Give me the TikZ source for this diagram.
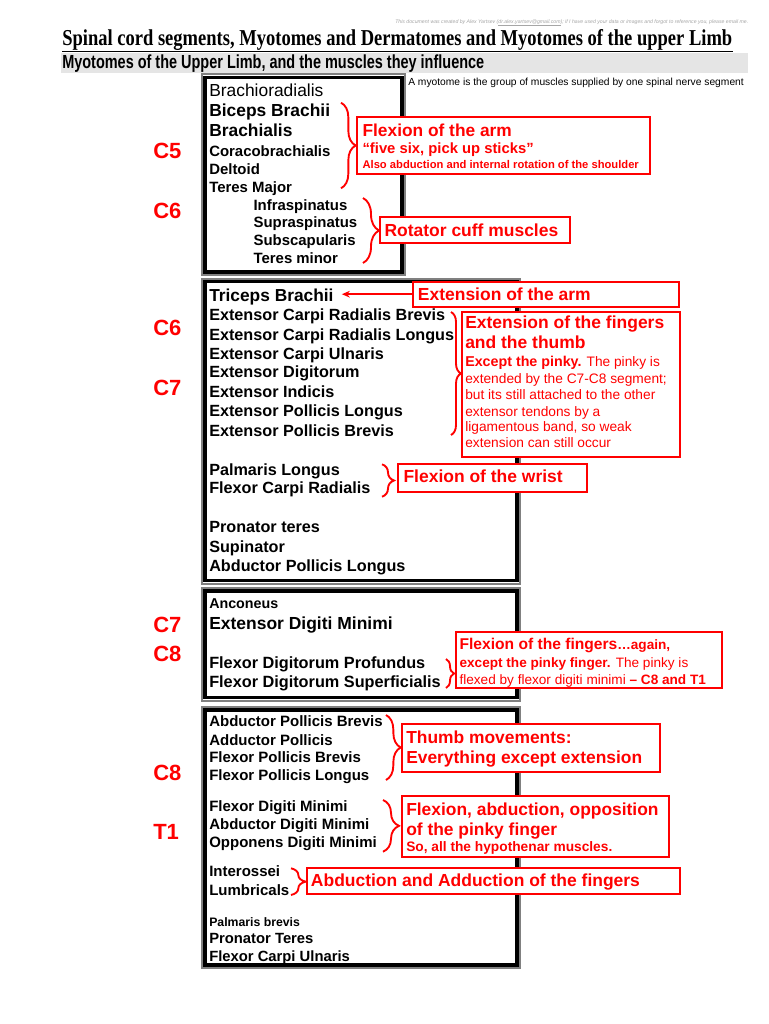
\documentclass[tikz,border=0pt]{standalone}
\usepackage{fontspec}
\setmainfont{Liberation Sans}
\newfontfamily\titlefont{Liberation Serif}
\usepackage{graphicx}
\usetikzlibrary{decorations.pathreplacing,fit,arrows.meta}
\newcommand\fsz[1]{\fontsize{#1pt}{#1pt}\selectfont}
\begin{document}
\begin{tikzpicture}[x=0.75pt,y=-0.75pt,
  txt/.style={anchor=base west,inner sep=0pt},
  mus/.style={txt,font=\bfseries\fsz{#1}},
  rtxt/.style={txt,text=red,font=\bfseries\fsz{#1}},
  rreg/.style={txt,text=red,font=\fsz{#1}},
  seg/.style={txt,text=red,font=\bfseries\fsz{16.5}},
  rframe/.style={draw=red,fill=white,line width=1.5pt,inner sep=0pt,rectangle},
  rbrace/.style={draw=red,line width=1.4pt,decorate,decoration={brace,amplitude=#1}},
  gframe/.style={draw=gray,line width=1.5pt},
  bframe/.style={draw=black,line width=2.5pt}]
\fill[white] (0,0) rectangle (768,1024);
\useasboundingbox (0,0) rectangle (768,1024);

% header
\node[txt,text=gray!70] (note) at (395,23.3) {\resizebox{264.75pt}{!}{\itshape\fsz{6}This document was created by Alex Yartsev (\underline{dr.alex.yartsev@gmail.com}); if I have used your data or images and forgot to reference you, please email me.}};
\node[txt] (title) at (62,46) {\resizebox{502.5pt}{12pt}{\titlefont\bfseries Spinal cord segments, Myotomes and Dermatomes and Myotomes of the upper Limb}};
\draw[line width=0.9pt] (62,51.5) -- (733,51.5);
\fill[gray!20] (61,53) rectangle (748,73);
\node[txt] (band) at (62,68.5) {\scalebox{0.764}[1]{\bfseries\fsz{14.2}Myotomes of the Upper Limb, and the muscles they influence}};
\node[txt,font=\fsz{7.7}] (def) at (408,85.7) {A myotome is the group of muscles supplied by one spinal nerve segment};

% frames
\draw[gframe] (202,74.5) rectangle (405,275);
\draw[bframe] (205,77.5) rectangle (402,272);
\draw[gframe] (202,278.5) rectangle (520,583.5);
\draw[bframe] (205,281.5) rectangle (517,580.5);
\draw[gframe] (202,588) rectangle (520,700.5);
\draw[bframe] (205,591) rectangle (517,697.5);
\draw[gframe] (202,707) rectangle (520,968);
\draw[bframe] (205,710) rectangle (517,965);

% segment labels
\node[seg] (s1) at (153,158.3) {C5};
\node[seg] (s2) at (153,218.3) {C6};
\node[seg] (s3) at (153,335.3) {C6};
\node[seg] (s4) at (153,395.3) {C7};
\node[seg] (s5) at (153,632.3) {C7};
\node[seg] (s6) at (153,661.3) {C8};
\node[seg] (s7) at (153,780.3) {C8};
\node[seg] (s8) at (153,839.3) {T1};

% box 1
\node[txt,font=\fsz{13.05}] (m1) at (209,96.7) {Brachioradialis};
\node[mus=13.05] (m2) at (209,116.7) {Biceps Brachii};
\node[mus=13.05] (m3) at (209,136.7) {Brachialis};
\node[mus=11.2] (m4) at (209,156) {Coracobrachialis};
\node[mus=11.2] (m5) at (209,174) {Deltoid};
\node[mus=11.2] (m6) at (209,192.7) {Teres Major};
\node[mus=11.2] (m7) at (253.3,210) {Infraspinatus};
\node[mus=11.2] (m8) at (253.3,227.7) {Supraspinatus};
\node[mus=11.2] (m9) at (253.3,245) {Subscapularis};
\node[mus=11.2] (m10) at (253.3,263.3) {Teres minor};

\draw[rbrace=11pt] (341,102.7) -- (341,188.3);
\node[rframe,fit={(357.3,117.3) (650,174)}] (fa) {};
\node[rtxt=13] (fa1) at (362.3,136.7) {Flexion of the arm};
\node[rtxt=11.1] (fa2) at (362.3,153.3) {“five six, pick up sticks”};
\node[rtxt=8.4] (fa3) at (362.3,168.3) {Also abduction and internal rotation of the shoulder};

\draw[rbrace=12pt] (363,198) -- (363,263);
\node[rframe,fit={(380,217.3) (570,243.3)}] (rc) {};
\node[rtxt=13.1] (rc1) at (384.3,236.7) {Rotator cuff muscles};

% box 2
\node[mus=13] (triceps) at (209,301) {Triceps Brachii};
\node[mus=12.15] (n2) at (209,320) {Extensor Carpi Radialis Brevis};
\node[mus=12.15] (n3) at (209,340) {Extensor Carpi Radialis Longus};
\node[mus=12.15] (n4) at (209,359) {Extensor Carpi Ulnaris};
\node[mus=12.15] (n5) at (209,377.7) {Extensor Digitorum};
\node[mus=12.15] (n6) at (209,397.3) {Extensor Indicis};
\node[mus=12.15] (n7) at (209,416.7) {Extensor Pollicis Longus};
\node[mus=12.15] (n8) at (209,436) {Extensor Pollicis Brevis};
\node[mus=12.15] (n9) at (209,475) {Palmaris Longus};
\node[mus=12.15] (n10) at (209,493.3) {Flexor Carpi Radialis};
\node[mus=12.15] (n11) at (209,532.7) {Pronator teres};
\node[mus=12.15] (n12) at (209,552.7) {Supinator};
\node[mus=12.15] (n13) at (209,571.7) {Abductor Pollicis Longus};

\node[rframe,fit={(413.3,281.7) (679.3,306.7)}] (extarm) {};
\node[rtxt=13.1] (ea1) at (417.7,300) {Extension of the arm};
\draw[red,line width=1.5pt,-{Stealth[length=6pt,width=5pt]}] (extarm.west) -- ([xshift=6pt]triceps.east |- extarm.west);

\draw[rbrace=7.5pt] (451,312) -- (451,435);
\node[rframe,fit={(461.7,311.7) (680,456.7)}] (ef) {};
\node[rtxt=13.1] (ef1) at (465,328.3) {Extension of the fingers};
\node[rtxt=13.1] (ef2) at (465,348.3) {and the thumb};
\node[rreg=10.3] (ef3) at (465,366) {{\bfseries\fsz{10.7}Except the pinky.} The pinky is};
\node[rreg=10.3] (ef4) at (465,383.3) {extended by the C7-C8 segment;};
\node[rreg=10.3] (ef5) at (465,399.3) {but its still attached to the other};
\node[rreg=10.3] (ef6) at (465,416) {extensor tendons by a};
\node[rreg=10.3] (ef7) at (465,431.7) {ligamentous band, so weak};
\node[rreg=10.3] (ef8) at (465,447.3) {extension can still occur};

\draw[rbrace=9pt] (382,464.3) -- (382,496.7);
\node[rframe,fit={(398.3,464.3) (587,492.3)}] (fw) {};
\node[rtxt=13.1] (fw1) at (403.3,482.3) {Flexion of the wrist};

% box 3
\node[mus=10.7] (p1) at (209,608.3) {Anconeus};
\node[mus=13.1] (p2) at (209,629.3) {Extensor Digiti Minimi};
\node[mus=12.2] (p3) at (209,668.3) {Flexor Digitorum Profundus};
\node[mus=12.2] (p4) at (209,687.5) {Flexor Digitorum Superficialis};

\draw[rbrace=6pt] (446,659) -- (446,688);
\node[rframe,fit={(455.7,631.7) (721.7,688.3)}] (ff) {};
\node[rtxt=11.7] (ff1) at (459.3,649.3) {Flexion of the fingers{\fsz{10.2}…again,}};
\node[rreg=10.2] (ff2) at (459.3,667.3) {{\bfseries except the pinky finger.} The pinky is};
\node[rreg=10.2] (ff3) at (459.3,684) {flexed by flexor digiti minimi {\bfseries – C8 and T1}};

% box 4
\node[mus=11.25] (q1) at (209,726.7) {Abductor Pollicis Brevis};
\node[mus=11.25] (q2) at (209,745) {Adductor Pollicis};
\node[mus=11.25] (q3) at (209,762.7) {Flexor Pollicis Brevis};
\node[mus=11.25] (q4) at (209,780) {Flexor Pollicis Longus};
\node[mus=11.25] (q5) at (209,811) {Flexor Digiti Minimi};
\node[mus=11.25] (q6) at (209,829.3) {Abductor Digiti Minimi};
\node[mus=11.25] (q7) at (209,847.7) {Opponens Digiti Minimi};
\node[mus=11.25] (q8) at (209,876.7) {Interossei};
\node[mus=11.25] (q9) at (209,895) {Lumbricals};
\node[mus=9.2] (q10) at (209,926) {Palmaris brevis};
\node[mus=11.1] (q11) at (209,943.3) {Pronator Teres};
\node[mus=11.1] (q12) at (209,961) {Flexor Carpi Ulnaris};

\draw[rbrace=11pt] (386,715) -- (386,780);
\node[rframe,fit={(402,724) (660,771.7)}] (tm) {};
\node[rtxt=13.05] (tm1) at (406,743.3) {Thumb movements:};
\node[rtxt=13.05] (tm2) at (406,763.3) {Everything except extension};

\draw[rbrace=12pt] (383,800) -- (383,851.7);
\node[rframe,fit={(402,796) (669.3,857.3)}] (pk) {};
\node[rtxt=13.05] (pk1) at (406,815) {Flexion, abduction, opposition};
\node[rtxt=13.05] (pk2) at (406,835) {of the pinky finger};
\node[rtxt=10.3] (pk3) at (406,851.7) {So, all the hypothenar muscles.};

\draw[rbrace=11pt] (291,868.3) -- (291,895);
\node[rframe,fit={(306.7,868.3) (680,894.3)}] (ab) {};
\node[rtxt=13.1] (ab1) at (310.7,886.7) {Abduction and Adduction of the fingers};
\end{tikzpicture}
\end{document}
